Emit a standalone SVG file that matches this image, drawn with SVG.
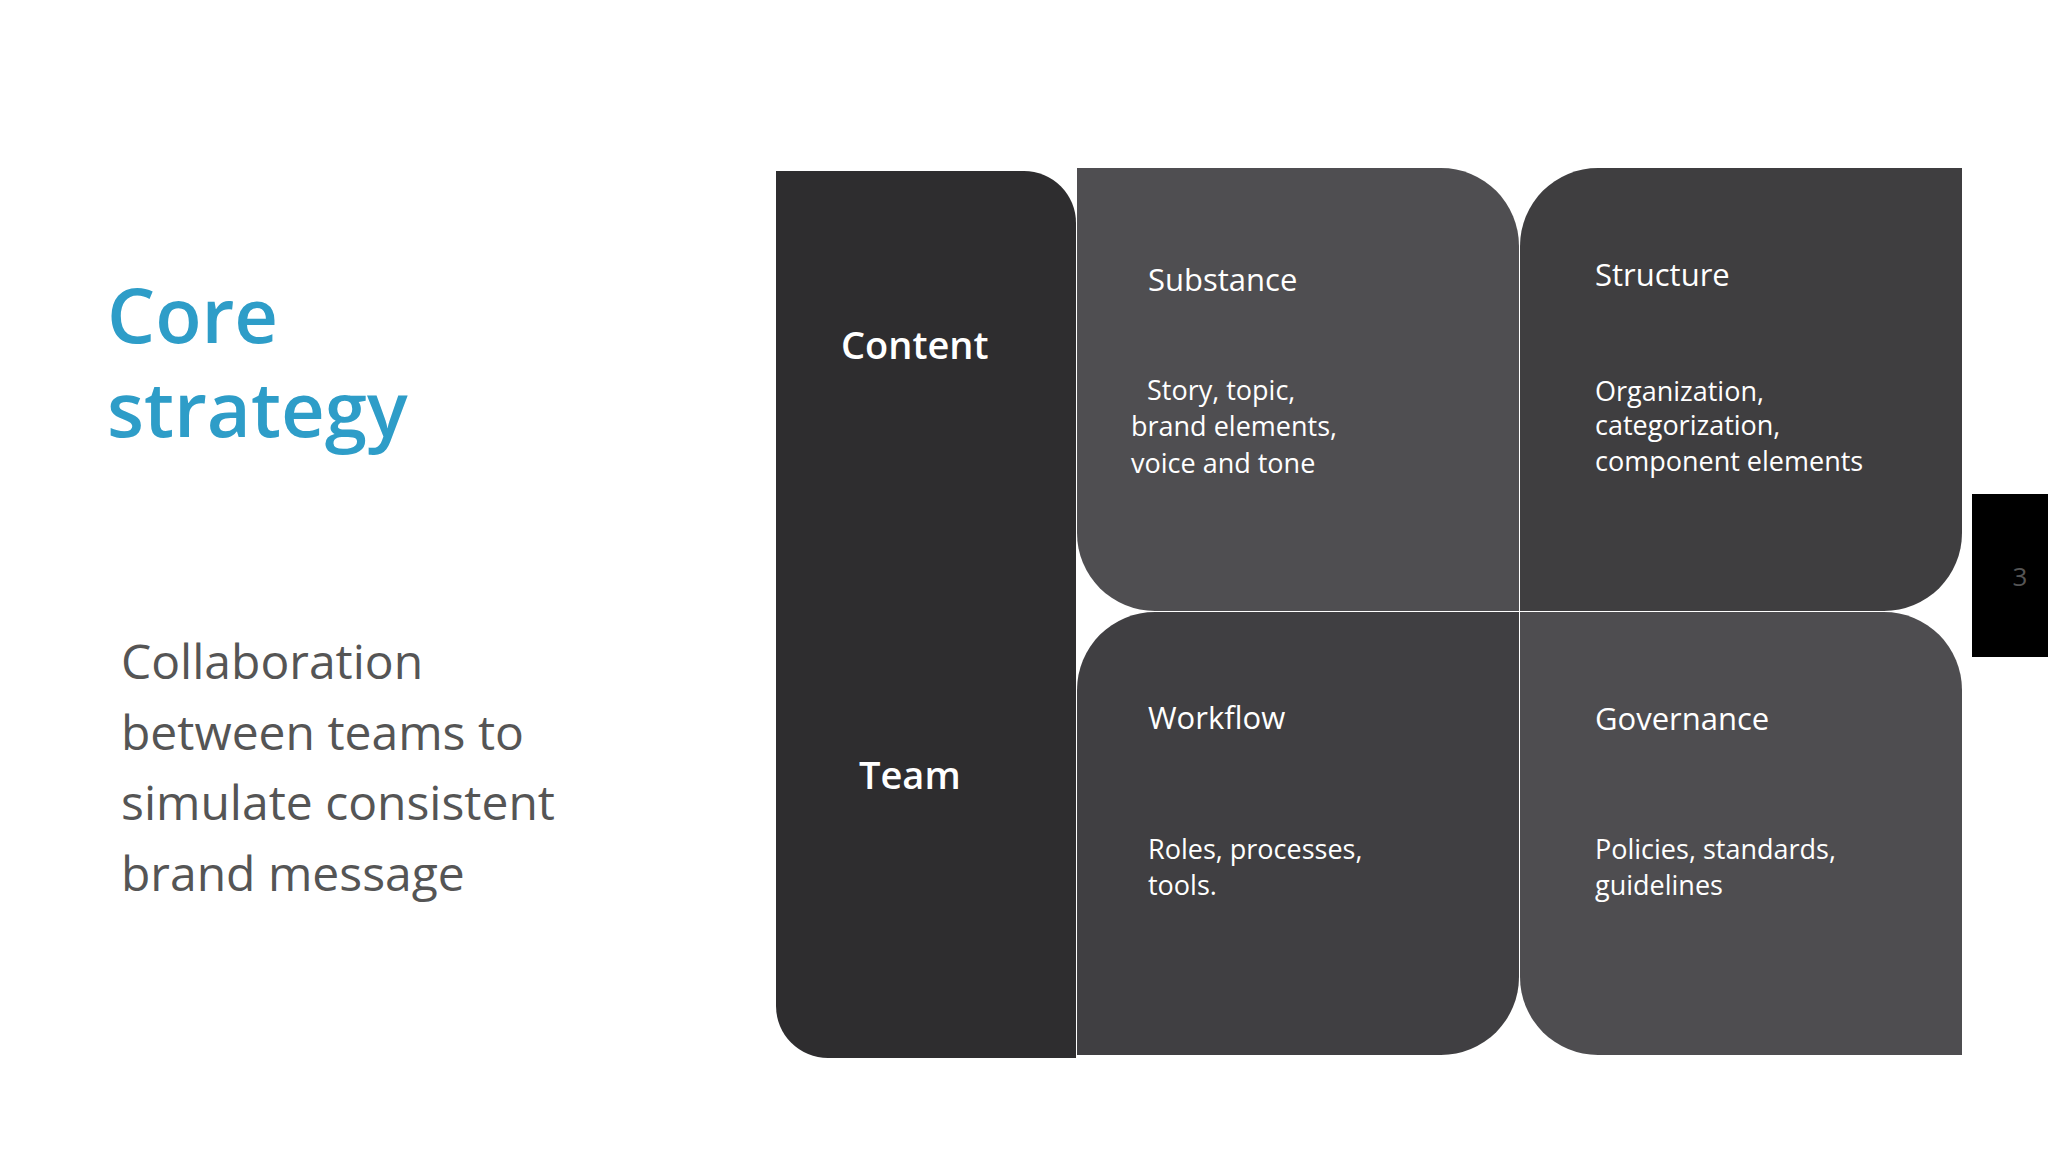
<svg xmlns="http://www.w3.org/2000/svg" width="2048" height="1152" viewBox="0 0 2048 1152">
<style>
.t{font-family:"Open Sans","Noto Sans",sans-serif;fill:#fff}
.h{font-size:31px}
.b{font-size:27px}
</style>
<rect width="2048" height="1152" fill="#fff"/>
<g id="title"><text class="t" x="107" y="343" font-size="76" font-weight="600" style="fill:#2e9dc8">Core</text>
<text class="t" x="107" y="437" font-size="76" font-weight="600" style="fill:#2e9dc8">strategy</text></g>
<g id="desc" class="t" font-size="48" style="fill:#555">
<text x="121" y="679" style="fill:#555">Collaboration</text>
<text x="121" y="750" style="fill:#555">between teams to</text>
<text x="121" y="820" style="fill:#555">simulate consistent</text>
<text x="121" y="891" style="fill:#555">brand message</text></g>
<g id="side"><path d="M776 171 H1024 A52 52 0 0 1 1076 223 V1058 H828 A52 52 0 0 1 776 1006 Z" fill="#2e2d2f"/>
<text class="t" x="841" y="359" font-size="38" font-weight="600">Content</text>
<text class="t" x="859" y="789" font-size="38" font-weight="600">Team</text></g>
<g id="substance"><path d="M1077 168 H1441 A78 78 0 0 1 1519 246 V611 H1155 A78 78 0 0 1 1077 533 Z" fill="#4f4e51"/>
<text class="t h" x="1148" y="291">Substance</text>
<text class="t b" x="1147" y="400">Story, topic,</text><text class="t b" x="1131" y="436">brand elements,</text><text class="t b" x="1131" y="473">voice and tone</text></g>
<g id="structure"><path d="M1598 168 H1962 V533 A78 78 0 0 1 1884 611 H1520 V246 A78 78 0 0 1 1598 168 Z" fill="#3f3e40"/>
<text class="t h" x="1595" y="286">Structure</text>
<text class="t b" x="1595" y="401">Organization,</text><text class="t b" x="1595" y="435">categorization,</text><text class="t b" x="1595" y="471">component elements</text></g>
<g id="workflow"><path d="M1155 612 H1519 V977 A78 78 0 0 1 1441 1055 H1077 V690 A78 78 0 0 1 1155 612 Z" fill="#403f42"/>
<text class="t h" x="1148" y="729">Workflow</text>
<text class="t b" x="1148" y="859">Roles, processes,</text><text class="t b" x="1148" y="895">tools.</text></g>
<g id="governance"><path d="M1520 612 H1884 A78 78 0 0 1 1962 690 V1055 H1598 A78 78 0 0 1 1520 977 Z" fill="#4e4d50"/>
<text class="t h" x="1595" y="730">Governance</text>
<text class="t b" x="1595" y="859">Policies, standards,</text><text class="t b" x="1595" y="895">guidelines</text></g>
<g id="tab"><rect x="1972" y="494" width="76" height="163" fill="#000"/>
<text class="t" x="2020" y="586" font-size="26" text-anchor="middle" style="fill:#555">3</text></g>
<g id="connectors"/>
</svg>
